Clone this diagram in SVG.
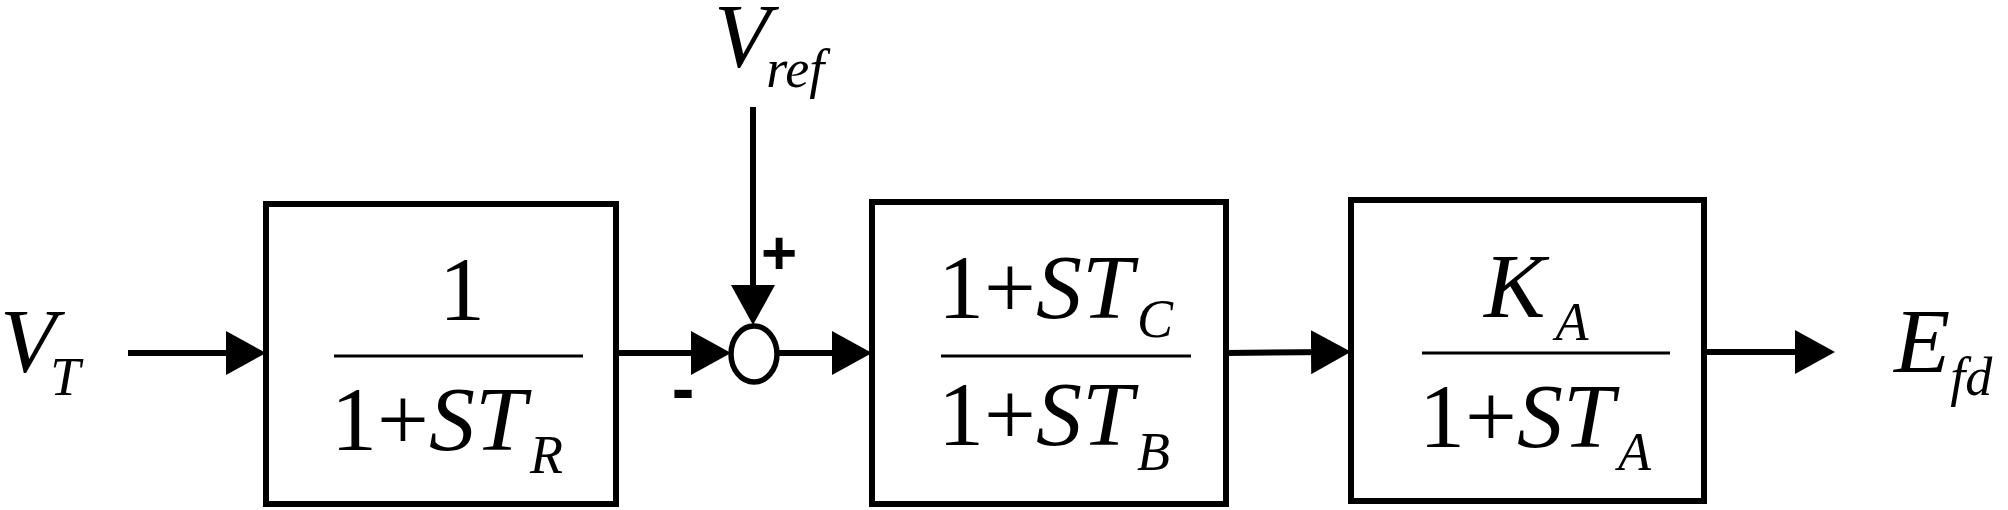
<svg xmlns="http://www.w3.org/2000/svg" width="2008" height="510" viewBox="0 0 2008 510">
<style>
.box{fill:#fff;stroke:#000;stroke-width:6}
.wire{fill:none;stroke:#000;stroke-width:6}
.bar{stroke:#000;stroke-width:3}
.m{font-family:"Liberation Serif","Times New Roman",serif;font-size:92px;fill:#000}
.i{font-style:italic}
.sub{font-family:"Liberation Serif","Times New Roman",serif;font-style:italic;font-size:54px}
.sign{font-family:"Liberation Sans",Arial,sans-serif;font-weight:bold;fill:#000}
</style>
<defs>
<marker id="ah" markerUnits="userSpaceOnUse" markerWidth="40" markerHeight="44" refX="20" refY="22" orient="auto" viewBox="0 0 40 44">
<path d="M0,0 L40,22 L0,44 Z" fill="#000"/>
</marker>
</defs>
<rect width="2008" height="510" fill="#fff"/>
<g id="connectors">
<line class="wire" x1="128" y1="353" x2="246" y2="353" marker-end="url(#ah)"/>
<line class="wire" x1="616" y1="353" x2="711" y2="353" marker-end="url(#ah)"/>
<line class="wire" x1="753" y1="107" x2="753" y2="305" marker-end="url(#ah)"/>
<line class="wire" x1="777" y1="353" x2="852" y2="353" marker-end="url(#ah)"/>
<line class="wire" x1="1226" y1="353" x2="1331" y2="352" marker-end="url(#ah)"/>
<line class="wire" x1="1704" y1="352" x2="1815" y2="352" marker-end="url(#ah)"/>
</g>
<g id="input-VT">
<text class="m i" x="0" y="372">V<tspan class="sub" dx="-6" dy="23">T</tspan></text>
</g>
<g id="input-Vref">
<text class="m i" x="714" y="67">V<tspan class="sub" dx="-4" dy="20">ref</tspan></text>
</g>
<g id="output-Efd">
<text class="m i" x="1894" y="372">E<tspan class="sub" dx="0" dy="23" font-size="58">fd</tspan></text>
</g>
<g id="block-TR">
<rect class="box" x="266" y="204" width="350" height="300"/>
<text class="m" x="462" y="320" text-anchor="middle">1</text>
<line class="bar" x1="334" y1="356" x2="583" y2="356"/>
<text class="m" x="331" y="450">1+<tspan class="i">ST</tspan><tspan class="sub" dx="4" dy="23">R</tspan></text>
</g>
<g id="summing-junction">
<ellipse cx="754" cy="354" rx="23" ry="28" fill="#fff" stroke="#000" stroke-width="5.5"/>
<text class="sign" x="779" y="274" font-size="62" text-anchor="middle">+</text>
<text class="sign" x="683" y="412" font-size="68" text-anchor="middle">-</text>
</g>
<g id="block-TC-TB">
<rect class="box" x="872" y="202" width="354" height="302"/>
<text class="m" x="938" y="318">1+<tspan class="i">ST</tspan><tspan class="sub" dx="4" dy="19">C</tspan></text>
<line class="bar" x1="941" y1="356" x2="1191" y2="356"/>
<text class="m" x="938" y="445">1+<tspan class="i">ST</tspan><tspan class="sub" dx="4" dy="25">B</tspan></text>
</g>
<g id="block-KA">
<rect class="box" x="1351" y="200" width="353" height="301"/>
<text class="m i" x="1484" y="317">K<tspan class="sub" dx="10" dy="23">A</tspan></text>
<line class="bar" x1="1422" y1="353" x2="1670" y2="353"/>
<text class="m" x="1419" y="447">1+<tspan class="i">ST</tspan><tspan class="sub" dx="4" dy="23">A</tspan></text>
</g>
</svg>
